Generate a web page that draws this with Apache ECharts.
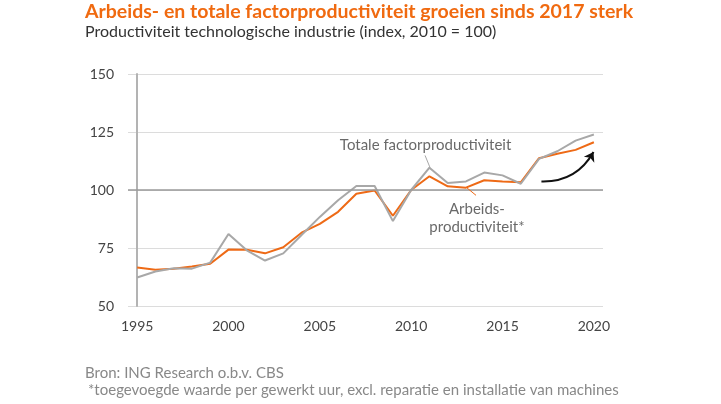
<!DOCTYPE html>
<html>
<head>
<meta charset="utf-8">
<script src="https://cdn.jsdelivr.net/npm/echarts@6/dist/echarts.min.js"></script>
<style>
html,body{margin:0;padding:0;background:#fff;}
#chart{width:721px;height:404px;}
</style>
</head>
<body>
<div id="chart"></div>
<script>
var years = ['1995','1996','1997','1998','1999','2000','2001','2002','2003','2004','2005','2006','2007','2008','2009','2010','2011','2012','2013','2014','2015','2016','2017','2018','2019','2020'];
var arbeidsProductiviteit = [66.6,65.6,66.1,67.0,68.2,74.3,74.2,72.7,75.3,81.6,85.4,90.6,98.4,99.8,88.9,100,105.9,101.6,101.0,104.2,103.7,103.3,113.7,115.6,117.3,120.6];
var totaleFactorProductiviteit = [62.3,64.9,66.3,66.1,68.7,81.0,74.0,69.6,72.7,80.6,88.4,95.6,101.7,101.7,86.6,100,109.6,103.0,103.7,107.5,106.3,102.7,113.4,116.7,121.3,123.9];
var yTicks = [50,75,100,125,150];

var FONT = 'Lato';
var chart = echarts.init(document.getElementById('chart'), null, {renderer:'canvas'});
var option = {
  backgroundColor:'#fff',
  animation:false,
  textStyle:{fontFamily:FONT},
  grid:{left:128,right:118,top:74,bottom:98,containLabel:false},
  graphic:[
    {type:'text',left:85,top:2,style:{text:'Arbeids- en totale factorproductiviteit groeien sinds 2017 sterk',fill:'#f06a10',font:'bold 19.5px Lato'}},
    {type:'text',left:85,top:24,style:{text:'Productiviteit technologische industrie (index, 2010 = 100)',fill:'#333',font:'16px Lato'}},
    {type:'text',left:85,top:366,style:{text:'Bron: ING Research o.b.v. CBS',fill:'#888',font:'15px Lato'}},
    {type:'text',left:88,top:383,style:{text:'*toegevoegde waarde per gewerkt uur, excl. reparatie en installatie van machines',fill:'#888',font:'15px Lato'}}
  ],
  xAxis:[
    {type:'category',data:years,boundaryGap:true,
      axisLine:{show:false},axisTick:{show:false},
      axisLabel:{interval:4,color:'#444',fontSize:14,margin:13,fontFamily:FONT},
      splitLine:{show:false}},
    {type:'value',min:-0.5,max:25.5,show:false}
  ],
  yAxis:{type:'value',min:yTicks[0],max:yTicks[yTicks.length-1],interval:25,
    axisLine:{show:true,lineStyle:{color:'#b3b3b3',width:2}},
    axisTick:{show:false},
    axisLabel:{color:'#444',fontSize:14,margin:14,fontFamily:FONT},
    splitLine:{show:true,lineStyle:{color:'#dcdcdc',width:1}}},
  series:[
    {type:'line',name:'Arbeidsproductiviteit*',data:arbeidsProductiviteit,symbol:'none',
      lineStyle:{color:'#ee6a16',width:2},z:3,
      markLine:{silent:true,symbol:['none','none'],label:{show:false},
        lineStyle:{color:'#9a9a9a',width:1.5,type:'solid'},data:[{yAxis:100}]}},
    {type:'line',name:'Totale factorproductiviteit',data:totaleFactorProductiviteit,symbol:'none',
      lineStyle:{color:'#a8a8a8',width:2},z:4},
    {type:'lines',coordinateSystem:'cartesian2d',xAxisIndex:1,yAxisIndex:0,silent:true,z:5,
      symbol:['none','none'],
      data:[
        {coords:[[15.76,114.9],[16.03,109.7]],lineStyle:{color:'#a8a8a8',width:1,opacity:1}},
        {coords:[[18.04,101.0],[18.55,97.7]],lineStyle:{color:'#ee6a16',width:1,opacity:1}}
      ]},
    {type:'lines',coordinateSystem:'cartesian2d',xAxisIndex:1,yAxisIndex:0,silent:true,z:6,
      symbol:['none','arrow'],symbolSize:9,
      lineStyle:{color:'#111',width:2,curveness:-0.3,opacity:1},
      data:[{coords:[[22.13,103.7],[24.98,116.4]]}]},
    {type:'scatter',xAxisIndex:1,yAxisIndex:0,symbolSize:0,silent:true,z:7,
      label:{show:true,position:[0,0],align:'center',verticalAlign:'middle',color:'#444',fontSize:15,fontFamily:FONT,formatter:function(p){return p.name;}},
      data:[
        {name:'Totale factorproductiviteit',value:[15.79,119.2]},
        {name:'Arbeids-',value:[18.6,91.7]},
        {name:'productiviteit*',value:[18.6,84.0]}
      ]}
  ]
};
chart.setOption(option);
</script>
</body>
</html>
